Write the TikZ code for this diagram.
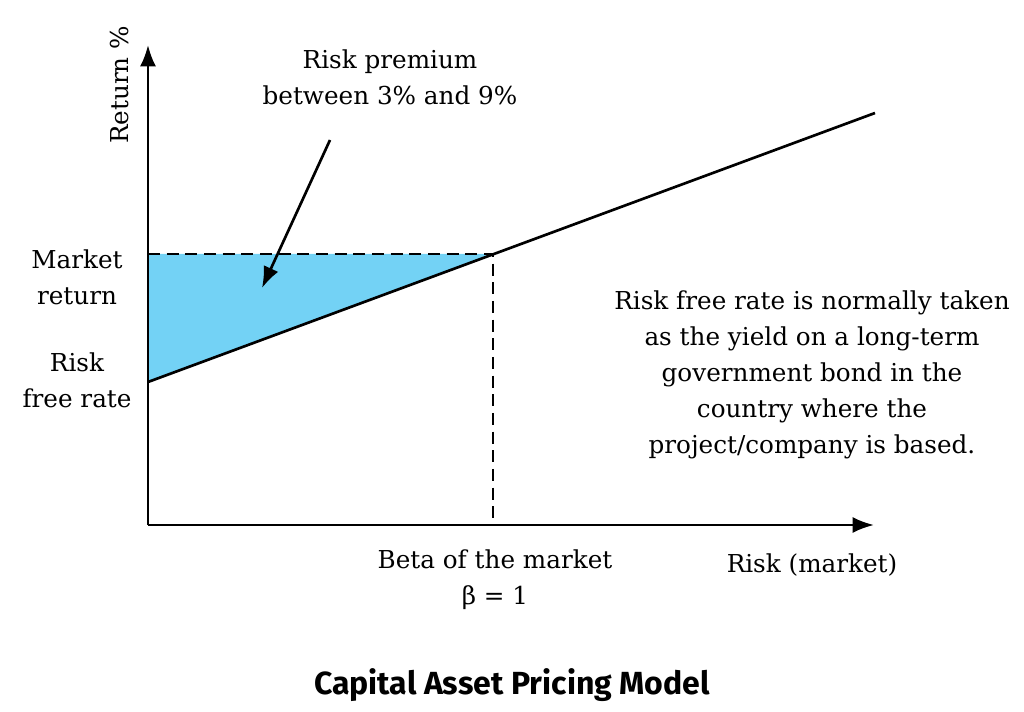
\documentclass[tikz,border=0pt]{standalone}
\usetikzlibrary{arrows.meta}
\usepackage{fontspec}
\setmainfont{DejaVu Serif}
\newfontfamily\titlefont{Fira Sans}
\begin{document}
\begin{tikzpicture}[x=0.75pt,y=-0.75pt,
  lbl/.style={font=\fontsize{18.5}{27}\selectfont,align=center,inner sep=0pt},
  ln/.style={line width=2pt,black}]
\useasboundingbox (0,0) rectangle (1024,712);
\coordinate (O) at (148,525);
\coordinate (Ytop) at (148,45);
\coordinate (Xend) at (874,525);
\coordinate (Rf) at (148,382);
\coordinate (M) at (493,254);
\coordinate (Mx) at (493,525);
\coordinate (My) at (148,254);
\coordinate (E) at (875,113);
\fill[fill={rgb,255:red,115;green,210;blue,245}] (My) -- (M) -- (Rf) -- cycle;
\draw[ln,-{Latex[length=16pt,width=12pt]}] (O) -- (Ytop);
\draw[ln,-{Latex[length=16pt,width=12pt]}] (O) -- (Xend);
\draw[ln,dash pattern=on 9pt off 5pt] (My) -- (M) -- (Mx);
\draw[ln] (Rf) -- (E);
\coordinate (As) at (330,140);
\coordinate (Ae) at (262,288);
\draw[ln,-{Latex[length=16pt,width=12pt]}] (As) -- (Ae);
\node[lbl,rotate=90] (yl) at (120,85) {Return \%};
\node[lbl] (rp) at (390,77) {Risk premium\\between 3\% and 9\%};
\node[lbl] (mr) at (77,277) {Market\\return};
\node[lbl] (rfr) at (77,380) {Risk\\free rate};
\node[lbl] (note) at (812,375) {Risk free rate is normally taken\\as the yield on a long-term\\government bond in the\\country where the\\project/company is based.};
\node[lbl] (beta) at (495,580) {Beta of the market\\β = 1};
\node[lbl] (xl) at (812,565) {Risk (market)};
\node[font=\titlefont\bfseries\fontsize{24}{30}\selectfont,inner sep=0pt] (title) at (512,685) {Capital Asset Pricing Model};
\end{tikzpicture}
\end{document}
